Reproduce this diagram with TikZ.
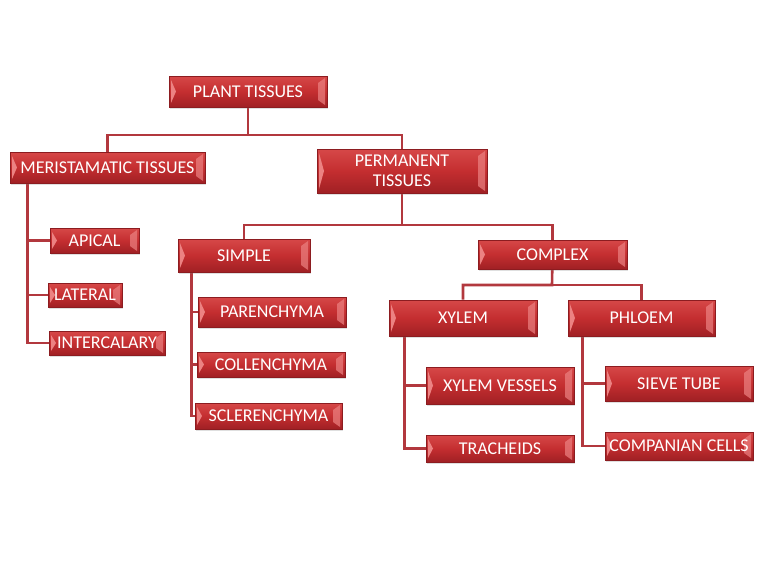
\documentclass[tikz,border=0pt]{standalone}
\usepackage{fontspec}
\setmainfont{Carlito}
\usetikzlibrary{positioning,calc,shadows,backgrounds}
\definecolor{boxtop}{RGB}{214,72,72}
\definecolor{boxmid}{RGB}{196,46,48}
\definecolor{boxbot}{RGB}{160,32,36}
\definecolor{boxline}{RGB}{140,28,32}
\definecolor{boxhi}{RGB}{236,130,130}
\definecolor{linkred}{RGB}{178,56,62}
\tikzset{
	tissue/.style 2 args={rectangle,draw=boxline,line width=0.8pt,top color=boxtop,bottom color=boxbot,middle color=boxmid,
		text=white,font=\fontsize{18}{20.5}\selectfont,align=center,inner sep=1pt,minimum width=#1,minimum height=#2,
		drop shadow={opacity=0.25,shadow xshift=1pt,shadow yshift=-2pt},
		path picture={
			\fill[boxhi] ([xshift=2pt,yshift=-4pt]path picture bounding box.north west) -- ([xshift=7pt]path picture bounding box.west) -- ([xshift=2pt,yshift=4pt]path picture bounding box.south west) -- cycle;
			\fill[boxhi,opacity=0.7] ([xshift=-2pt,yshift=-2pt]path picture bounding box.north east) -- ([xshift=-9pt,yshift=-7pt]path picture bounding box.north east) -- ([xshift=-9pt,yshift=7pt]path picture bounding box.south east) -- ([xshift=-2pt,yshift=2pt]path picture bounding box.south east) -- cycle;
		}},
	link/.style={color=linkred, line width=2.6pt}
}
\begin{document}
\begin{tikzpicture}[x=1pt,y=-1pt]
	\useasboundingbox (0,0) rectangle (768,566);
	%%%top levels
	\node[tissue={158pt}{31pt}] (plant) at (248,91.5) {PLANT TISSUES};
	\node[tissue={195pt}{31pt}] (merist) at (107.5,167.5) {MERISTAMATIC TISSUES};
	\node[tissue={170pt}{44pt}] (perm) at (402,171) {PERMANENT\\TISSUES};
	
	%%%meristematic
	\node[tissue={89pt}{25pt}] (apical) at (94.5,240.5) {APICAL};
	\node[tissue={74pt}{24pt}] (lateral) at (85,295) {LATERAL};
	\node[tissue={116pt}{24pt}] (intercal) at (107,343) {INTERCALARY};
	
	%%%permanent
	\node[tissue={132pt}{33pt}] (simple) at (244,255.5) {SIMPLE};
	\node[tissue={149pt}{29pt}] (complex) at (552.5,254.5) {COMPLEX};
	
	\node[tissue={148pt}{30pt}] (paren) at (272,312) {PARENCHYMA};
	\node[tissue={148pt}{25pt}] (collen) at (271,364.5) {COLLENCHYMA};
	\node[tissue={147pt}{26pt}] (scler) at (268.5,416) {SCLERENCHYMA};
	
	\node[tissue={148pt}{36pt}] (xylem) at (463,318) {XYLEM};
	\node[tissue={147pt}{36pt}] (phloem) at (641.5,318) {PHLOEM};
	
	\node[tissue={148pt}{37pt}] (xvess) at (500,385.5) {XYLEM VESSELS};
	\node[tissue={148pt}{27pt}] (trach) at (500,448.5) {TRACHEIDS};
	\node[tissue={148pt}{35pt}] (sieve) at (679,383.5) {SIEVE TUBE};
	\node[tissue={148pt}{28pt}] (compan) at (679,446) {COMPANIAN CELLS};
	
	\coordinate (b1) at (248,135);
	\coordinate (b2) at (402,225);
	\coordinate (b3) at (552,285);
	
	\begin{scope}[on background layer]
		\draw[link] (plant) -- (b1) -| (merist);
		\draw[link] (b1) -| (perm);
		\draw[link] ([xshift=18pt]merist.south west) |- (apical);
		\draw[link] ([xshift=18pt]merist.south west) |- (lateral);
		\draw[link] ([xshift=18pt]merist.south west) |- (intercal);
		
		\draw[link] (perm) -- (b2) -| (simple);
		\draw[link] (b2) -| (complex);
		\draw[link] ([xshift=14pt]simple.south west) |- (paren);
		\draw[link] ([xshift=14pt]simple.south west) |- (collen);
		\draw[link] ([xshift=14pt]simple.south west) |- (scler);
		
		\draw[link] (complex) -- (b3) -| (xylem);
		\draw[link] (b3) -| (phloem);
		\draw[link] ([xshift=16pt]xylem.south west) |- (xvess);
		\draw[link] ([xshift=16pt]xylem.south west) |- (trach);
		\draw[link] ([xshift=15pt]phloem.south west) |- (sieve);
		\draw[link] ([xshift=15pt]phloem.south west) |- (compan);
	\end{scope}
\end{tikzpicture}
\end{document}
